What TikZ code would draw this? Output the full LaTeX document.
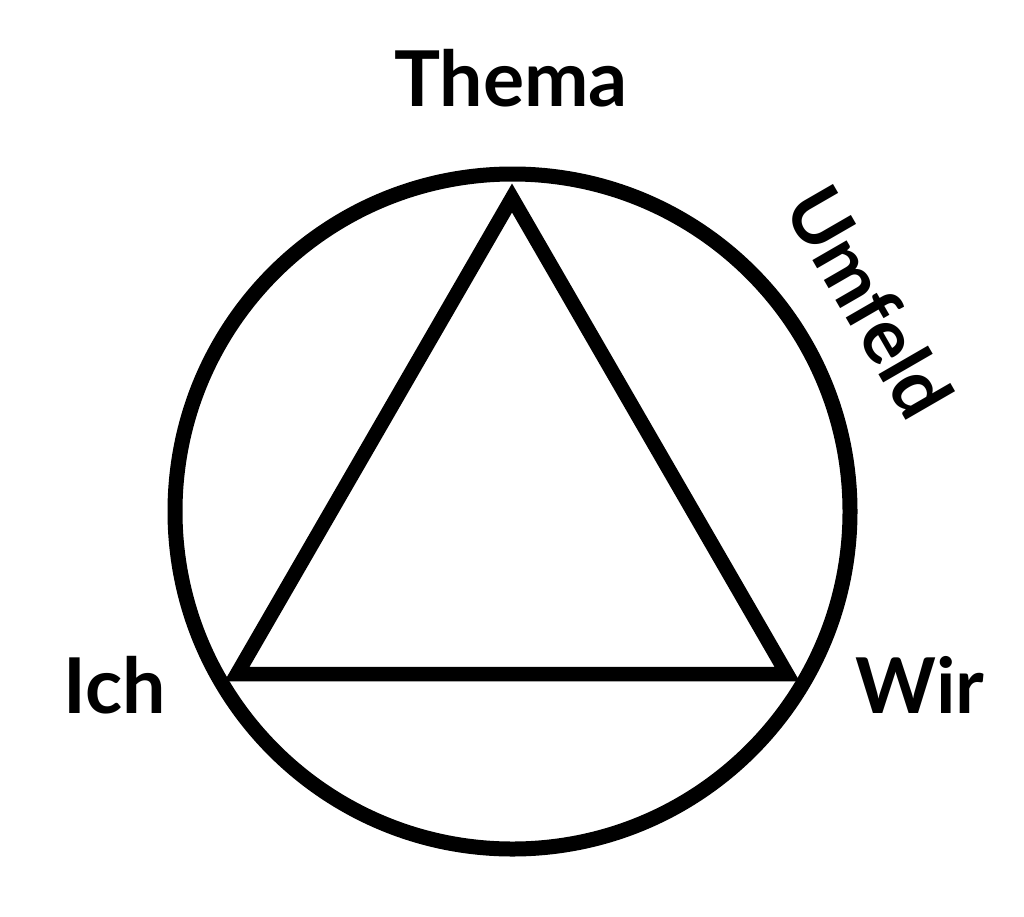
\documentclass[tikz,border=0pt]{standalone}
\usepackage{fontspec}
\setmainfont{Lato}[BoldFont={Lato Bold}]
\begin{document}
\begin{tikzpicture}[x=1pt,y=-1pt,
  ring/.style={draw=black,line width=15pt,circle,inner sep=0pt,minimum size=675pt},
  tri/.style={draw=black,line width=14.5pt,line join=miter},
  lbl/.style={font=\fontsize{77}{82}\selectfont\bfseries,inner sep=0pt}]
\useasboundingbox (0,0) rectangle (1024,916);
\node[ring] (c) at (512.5,511.5) {};
\coordinate (t) at (512,198);
\coordinate (l) at (237,674);
\coordinate (r) at (787,674);
\draw[tri] (t) -- (l) -- (r) -- cycle;
\node[lbl,anchor=base] (thema) at (511,106) {Thema};
\node[lbl,anchor=base] (ich) at (115,713) {Ich};
\node[lbl,anchor=base] (wir) at (920,713) {Wir};
\node[lbl,rotate=-60] (umfeld) at (870,302) {Umfeld};
\end{tikzpicture}
\end{document}
